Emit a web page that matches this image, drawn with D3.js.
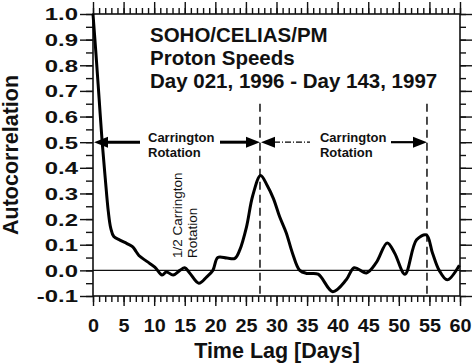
<!DOCTYPE html>
<html>
<head>
<meta charset="utf-8">
<script src="https://cdn.jsdelivr.net/npm/d3@7"></script>
<style>
  body { margin: 0; background: #fff; }
  svg { display: block; }
  text { font-family: "Liberation Sans", Arial, sans-serif; fill: #111; }
</style>
</head>
<body>
<svg class="chart" width="474" height="364"></svg>
<script>

// autocorrelation curve
const lagDays = [0, 0.5, 1.0, 1.5, 2.0, 2.5, 2.9, 3.4, 4.4, 5.5, 6.5, 7.0, 7.5, 8.8, 10.1,
  11.3, 12.0, 13.1, 14.2, 15.0, 15.8, 17.3, 18.6, 19.6, 20.4, 21.9, 23.2, 24.0, 25.1, 26.1,
  27.4, 28.5, 29.5, 30.5, 31.6, 32.6, 33.8, 35.0, 36.8, 39.2, 41.4, 42.7, 44.7, 46.3, 48.1,
  49.3, 51.0, 52.9, 54.5, 55.5, 56.6, 57.9, 59.9];
const autoCorr = [1.00, 0.84, 0.67, 0.50, 0.36, 0.23, 0.165, 0.132, 0.118, 0.105, 0.092, 0.075, 0.058, 0.035, 0.013,
  -0.018, -0.006, -0.018, 0.0, 0.01, -0.01, -0.05, -0.025, 0.0, 0.05, 0.048, 0.047, 0.08, 0.17, 0.29,
  0.37, 0.33, 0.28, 0.21, 0.146, 0.068, 0.0, -0.012, -0.015, -0.083, -0.037, 0.01, -0.01, 0.03, 0.107,
  0.068, -0.015, 0.119, 0.138, 0.068, 0.0, -0.037, 0.02];

const xMajor = d3.range(0, 61, 5);
const xMinor = d3.range(0, 61, 1);
const yMajor = d3.range(-1, 11).map(d => d / 10);
const yMinor = d3.range(-2, 21).map(d => d / 20);

// carrington rotation markers (days)
const rotationDays = [0, 27.3, 54.6];
const arrowLevel = 0.5;

const titleLines = ['SOHO/CELIAS/PM', 'Proton Speeds', 'Day 021, 1996 - Day 143, 1997'];

const svg = d3.select('svg.chart');

const x = d3.scaleLinear().domain([0, 60]).range([93, 460]);
const y = d3.scaleLinear().domain([-0.1, 1.0]).range([296, 14]);

const [x0, x1] = x.range();
const [y0, y1] = y.range();

function tickAxis(axis, values, size){
  return axis.tickValues(values).tickSize(size).tickFormat('');
}

const axes = svg.append('g').attr('class', 'axes');

// minor ticks
axes.append('g').attr('transform', `translate(${x0},0)`).call(tickAxis(d3.axisLeft(y), yMinor, 7));
axes.append('g').attr('transform', `translate(${x1},0)`).call(tickAxis(d3.axisRight(y), yMinor, 6));
axes.append('g').attr('transform', `translate(0,${y0})`).call(tickAxis(d3.axisBottom(x), xMinor, 6));
axes.append('g').attr('transform', `translate(0,${y1})`).call(tickAxis(d3.axisTop(x), xMinor, 6));

// major ticks
axes.append('g').attr('transform', `translate(${x1},0)`).call(tickAxis(d3.axisRight(y), yMajor, 12));
axes.append('g').attr('transform', `translate(0,${y1})`).call(tickAxis(d3.axisTop(x), xMajor, 12));

const leftAx = axes.append('g')
    .attr('class', 'y-axis')
    .attr('transform', `translate(${x0},0)`)
    .call(d3.axisLeft(y).tickValues(yMajor).tickSize(13).tickFormat(d => d.toFixed(1)));

leftAx.selectAll('text')
    .attr('x', 0)
    .attr('dy', '0.36em')
    .attr('transform', 'translate(-15,0) scale(1.45,1)')
    .style('font-size', '16.5px')
    .style('font-weight', 'bold')
    .style('text-anchor', 'end');

const bottomAx = axes.append('g')
    .attr('class', 'x-axis')
    .attr('transform', `translate(0,${y0})`)
    .call(d3.axisBottom(x).tickValues(xMajor).tickSize(10).tickFormat(d => d));

bottomAx.selectAll('text')
    .attr('y', 0)
    .attr('dy', 0)
    .attr('transform', 'translate(0,36) scale(1.1,1)')
    .style('font-size', '18px')
    .style('font-weight', 'bold');

axes.selectAll('.domain').remove();
axes.selectAll('.tick line').style('stroke', '#111').style('stroke-width', 1.4);

// frame
svg.append('rect')
    .attr('x', x0).attr('y', y1)
    .attr('width', x1 - x0).attr('height', y0 - y1)
    .style('fill', 'none')
    .style('stroke', '#111')
    .style('stroke-width', 1.6);

// zero line
svg.append('line')
    .attr('x1', x0).attr('x2', x1)
    .attr('y1', y(0)).attr('y2', y(0))
    .style('stroke', '#111')
    .style('stroke-width', 1.1);

// rotation dashed lines
svg.append('g')
    .selectAll('line')
    .data(rotationDays.slice(1))
    .enter()
    .append('line')
    .attr('x1', d => x(d)).attr('x2', d => x(d))
    .attr('y1', y(0.65)).attr('y2', y0)
    .style('stroke', '#111')
    .style('stroke-width', 1.5)
    .style('stroke-dasharray', '8,5');

// curve
const line = d3.line()
    .x((d, i) => x(d))
    .y((d, i) => y(autoCorr[i]))
    .curve(d3.curveCatmullRom.alpha(0.5));

svg.append('path')
    .attr('d', line(lagDays))
    .style('fill', 'none')
    .style('stroke', '#000')
    .style('stroke-width', 3)
    .style('stroke-linejoin', 'round');

// annotation arrows
const ay = y(arrowLevel);
const ann = svg.append('g').attr('class', 'annotations');

function arrowHead(tip, dir){
  const b = tip - dir * 14;
  ann.append('path')
      .attr('d', `M${tip},${ay}L${b},${ay - 5.5}L${b},${ay + 5.5}Z`)
      .style('fill', '#000');
}

function seg(a, b, w, dash){
  ann.append('line')
      .attr('x1', a).attr('x2', b)
      .attr('y1', ay).attr('y2', ay)
      .style('stroke', '#000')
      .style('stroke-width', w)
      .style('stroke-dasharray', dash || null);
}

const r0 = x(rotationDays[0]), r1 = x(rotationDays[1]), r2 = x(rotationDays[2]);

arrowHead(r0 + 1, -1);
seg(r0 + 10, r0 + 47, 3);
seg(r1 - 40, r1 - 12, 3);
arrowHead(r1, 1);

arrowHead(r1 + 1, -1);
seg(r1 + 14, r1 + 50, 1.2, '6,2,1,2');
seg(r2 - 36, r2 - 12, 2.2);
arrowHead(r2, 1);

function twoLine(xs){
  const t = ann.append('text')
      .attr('x', xs)
      .attr('y', ay)
      .style('font-size', '13px')
      .style('font-weight', 'bold');
  t.append('tspan').attr('x', xs).attr('y', ay).text('Carrington');
  t.append('tspan').attr('x', xs).attr('y', ay + 15).text('Rotation');
}
twoLine(r0 + 55);
twoLine(r1 + 60);

// half rotation label
const half = ann.append('g').attr('transform', `translate(182,258) rotate(-90)`);
half.append('text').attr('x', 0).attr('y', 0)
    .style('font-size', '13.5px').text('1/2 Carrington');
half.append('text').attr('x', 0).attr('y', 15)
    .style('font-size', '13.5px').text('Rotation');

// title block
svg.append('g')
    .attr('class', 'titles')
    .selectAll('text')
    .data(titleLines)
    .enter()
    .append('text')
    .attr('x', 150)
    .attr('y', (d, i) => 42 + i * 23)
    .text(d => d)
    .style('font-size', '20.5px')
    .style('font-weight', 'bold');

// axis titles
svg.append('text')
    .attr('x', 277)
    .attr('y', 358)
    .text('Time Lag [Days]')
    .style('text-anchor', 'middle')
    .style('font-size', '21.5px')
    .style('font-weight', 'bold');

svg.append('text')
    .attr('transform', 'translate(18,155) rotate(-90)')
    .text('Autocorrelation')
    .style('text-anchor', 'middle')
    .style('font-size', '21.5px')
    .style('font-weight', 'bold');

</script>
</body>
</html>
